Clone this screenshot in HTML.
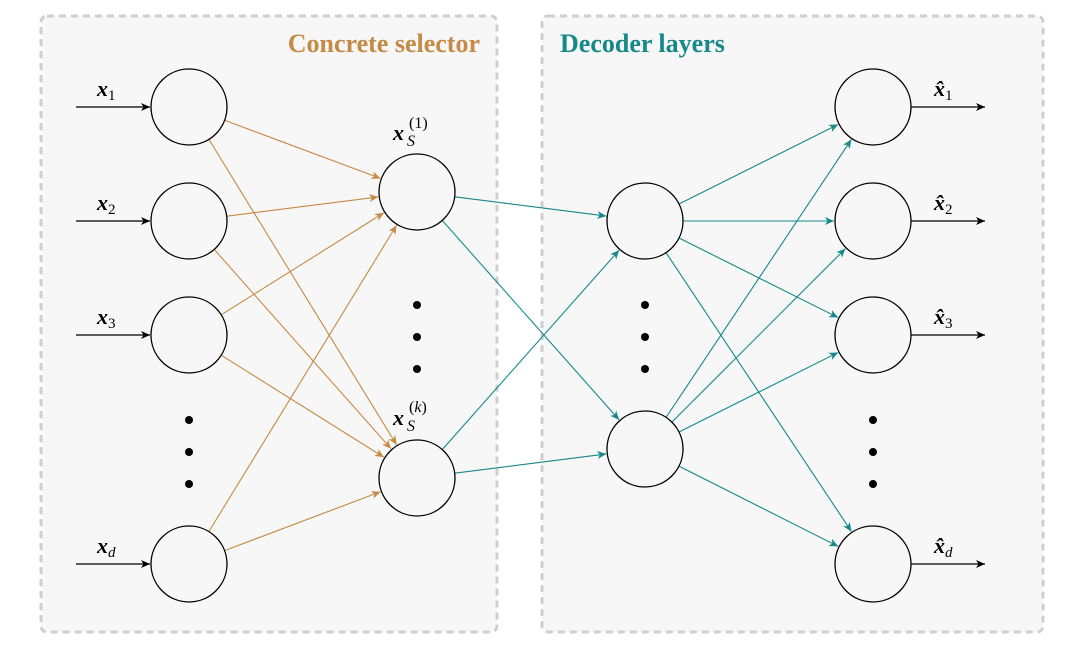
<!DOCTYPE html>
<html><head><meta charset="utf-8"><style>
body{margin:0;background:#fff;width:1071px;height:657px;overflow:hidden}
text{font-family:"Liberation Serif",serif}
</style></head><body>
<svg id="s" width="1071" height="657" xmlns="http://www.w3.org/2000/svg">
<defs>
<marker id="ab" markerWidth="10" markerHeight="10" refX="9" refY="5" orient="auto" markerUnits="userSpaceOnUse"><path d="M0,1 L9,5 L0,9 L2.5,5z" fill="#000"/></marker>
<marker id="ao" markerWidth="10" markerHeight="10" refX="9" refY="5" orient="auto" markerUnits="userSpaceOnUse"><path d="M0,1 L9,5 L0,9 L2.5,5z" fill="#c58a45"/></marker>
<marker id="at" markerWidth="10" markerHeight="10" refX="9" refY="5" orient="auto" markerUnits="userSpaceOnUse"><path d="M0,1 L9,5 L0,9 L2.5,5z" fill="#17888a"/></marker>
</defs>
<rect x="41" y="16" width="456" height="616" rx="6" fill="#f7f7f7" stroke="#cfcfcf" stroke-width="3" stroke-dasharray="7,5"/>
<rect x="542" y="16" width="501" height="616" rx="6" fill="#f7f7f7" stroke="#cfcfcf" stroke-width="3" stroke-dasharray="7,5"/>
<text x="480" y="52" text-anchor="end" font-size="26" font-weight="bold" fill="#c58a45">Concrete selector</text>
<text x="560" y="52" font-size="26" font-weight="bold" fill="#17888a">Decoder layers</text>
<g id="edges"></g>
<g id="nodes" fill="none" stroke="#000" stroke-width="1.3"></g>
<g fill="#000">
<circle cx="189" cy="420" r="4"/><circle cx="189" cy="452" r="4"/><circle cx="189" cy="484" r="4"/>
<circle cx="417" cy="305" r="4"/><circle cx="417" cy="337" r="4"/><circle cx="417" cy="369" r="4"/>
<circle cx="645" cy="305" r="4"/><circle cx="645" cy="337" r="4"/><circle cx="645" cy="369" r="4"/>
<circle cx="873" cy="420" r="4"/><circle cx="873" cy="452" r="4"/><circle cx="873" cy="484" r="4"/>
</g>
<g font-size="22" font-weight="bold" font-style="italic">
<text x="97" y="96">x<tspan font-size="15" font-weight="normal" font-style="normal" dy="4">1</tspan></text>
<text x="97" y="210">x<tspan font-size="15" font-weight="normal" font-style="normal" dy="4">2</tspan></text>
<text x="97" y="324">x<tspan font-size="15" font-weight="normal" font-style="normal" dy="4">3</tspan></text>
<text x="97" y="553">x<tspan font-size="15" font-weight="normal" font-style="italic" dy="4">d</tspan></text>
<text x="934" y="96">x̂<tspan font-size="15" font-weight="normal" font-style="normal" dy="4">1</tspan></text>
<text x="934" y="210">x̂<tspan font-size="15" font-weight="normal" font-style="normal" dy="4">2</tspan></text>
<text x="934" y="324">x̂<tspan font-size="15" font-weight="normal" font-style="normal" dy="4">3</tspan></text>
<text x="934" y="553">x̂<tspan font-size="15" font-weight="normal" font-style="italic" dy="4">d</tspan></text>
<text x="393" y="140">x</text>
<text x="393" y="425">x</text>
</g>
<g font-size="16" font-style="italic">
<text x="407" y="146">S</text><text x="409" y="128" font-style="normal">(1)</text>
<text x="407" y="431">S</text><text x="409" y="412" font-style="normal">(<tspan font-style="italic">k</tspan>)</text>
</g>
</svg>
<script>
var NS="http://www.w3.org/2000/svg",R=38;
var inp=[[189,107],[189,221],[189,335],[189,564]],sel=[[417,192],[417,478]],hid=[[645,221],[645,449]],out=[[873,107],[873,221],[873,335],[873,564]];
var E=document.getElementById('edges'),N=document.getElementById('nodes');
function line(x1,y1,x2,y2,c,m,w){var l=document.createElementNS(NS,'line');l.setAttribute('x1',x1);l.setAttribute('y1',y1);l.setAttribute('x2',x2);l.setAttribute('y2',y2);l.setAttribute('stroke',c);l.setAttribute('stroke-width',w||1.1);l.setAttribute('marker-end','url(#'+m+')');E.appendChild(l);}
function conn(a,b,c,m){var dx=b[0]-a[0],dy=b[1]-a[1],d=Math.hypot(dx,dy),ux=dx/d,uy=dy/d;line(a[0]+ux*R,a[1]+uy*R,b[0]-ux*(R+1),b[1]-uy*(R+1),c,m);}
inp.forEach(a=>sel.forEach(b=>conn(a,b,'#c58a45','ao')));
sel.forEach(a=>hid.forEach(b=>conn(a,b,'#17888a','at')));
hid.forEach(a=>out.forEach(b=>conn(a,b,'#17888a','at')));
inp.forEach(a=>line(76,a[1],a[0]-R-1,a[1],'#000','ab',1.2));
out.forEach(a=>line(a[0]+R,a[1],985,a[1],'#000','ab',1.2));
[].concat(inp,sel,hid,out).forEach(p=>{var c=document.createElementNS(NS,'circle');c.setAttribute('cx',p[0]);c.setAttribute('cy',p[1]);c.setAttribute('r',R);N.appendChild(c);});
</script>
</body></html>
